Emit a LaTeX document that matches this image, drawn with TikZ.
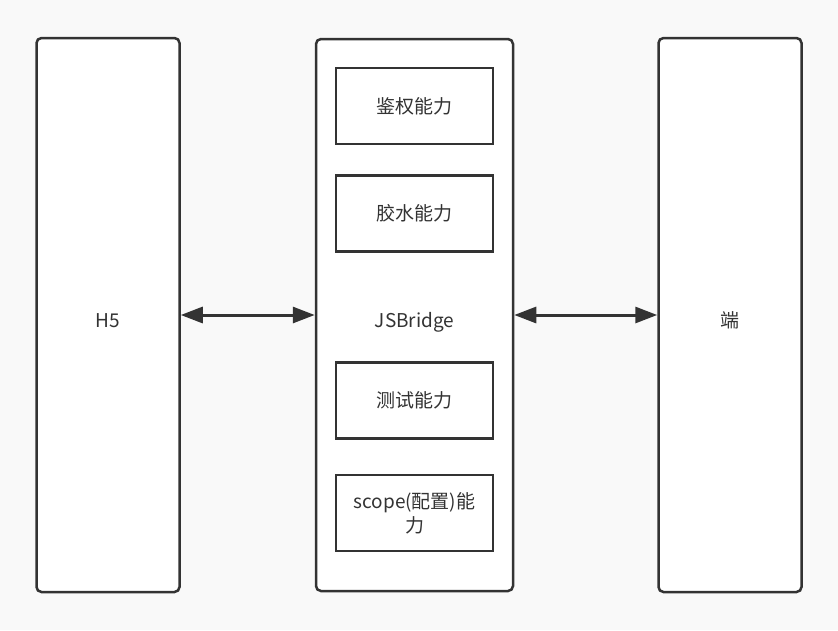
\documentclass[tikz,border=0pt]{standalone}
\usepackage{fontspec}
\setmainfont{Noto Sans CJK SC}
\usepackage{xcolor}
\definecolor{ink}{RGB}{51, 51, 51}
\definecolor{paper}{RGB}{249, 249, 249}
\usetikzlibrary{arrows.meta, positioning}

\begin{document}
\begin{tikzpicture}[x=1pt, y=-1pt,
  node distance=32pt,
  sidebox/.style={draw=ink, fill=white, line width=2.5pt, rounded corners=5pt,
              minimum width=143pt, minimum height=554pt,
              text height=24pt, text depth=0pt,
              font=\fontsize{19}{22}\selectfont, text=ink},
  bridgebox/.style={draw=ink, fill=white, line width=2.5pt, rounded corners=5pt,
              minimum width=197pt, minimum height=552pt,
              text height=24pt, text depth=0pt,
              font=\fontsize{19}{22}\selectfont, text=ink},
  ability/.style={draw=ink, fill=white, line width=2.5pt, align=center,
              minimum width=157pt, minimum height=76pt,
              font=\fontsize{19}{24}\selectfont, text=ink},
  biarrow/.style={{Triangle[length=22pt, width=16pt]}-{Triangle[length=22pt, width=16pt]},
              line width=3pt, ink}
]

  % -- Background --
  \fill[paper] (0,0) rectangle (838,630);

  % -- JSBridge (middle) --
  \node[bridgebox] (bridge) at (414.5,315) {JSBridge};
  \node[ability, below=29pt of bridge.north] (auth)  {鉴权能力};
  \node[ability, below=29pt of auth]         (glue)  {胶水能力};
  \node[ability, above=40pt of bridge.south] (scope) {scope(配置)能\\力};
  \node[ability, above=34pt of scope]        (test)  {测试能力};

  % -- H5 (left) and 端 (right) --
  \node[sidebox, left=134pt of bridge]  (h5)       {H5};
  \node[sidebox, right=143pt of bridge] (terminal) {端};

  % -- Arrows --
  \draw[biarrow] (h5) -- (bridge);
  \draw[biarrow] (bridge) -- (terminal);

\end{tikzpicture}
\end{document}
